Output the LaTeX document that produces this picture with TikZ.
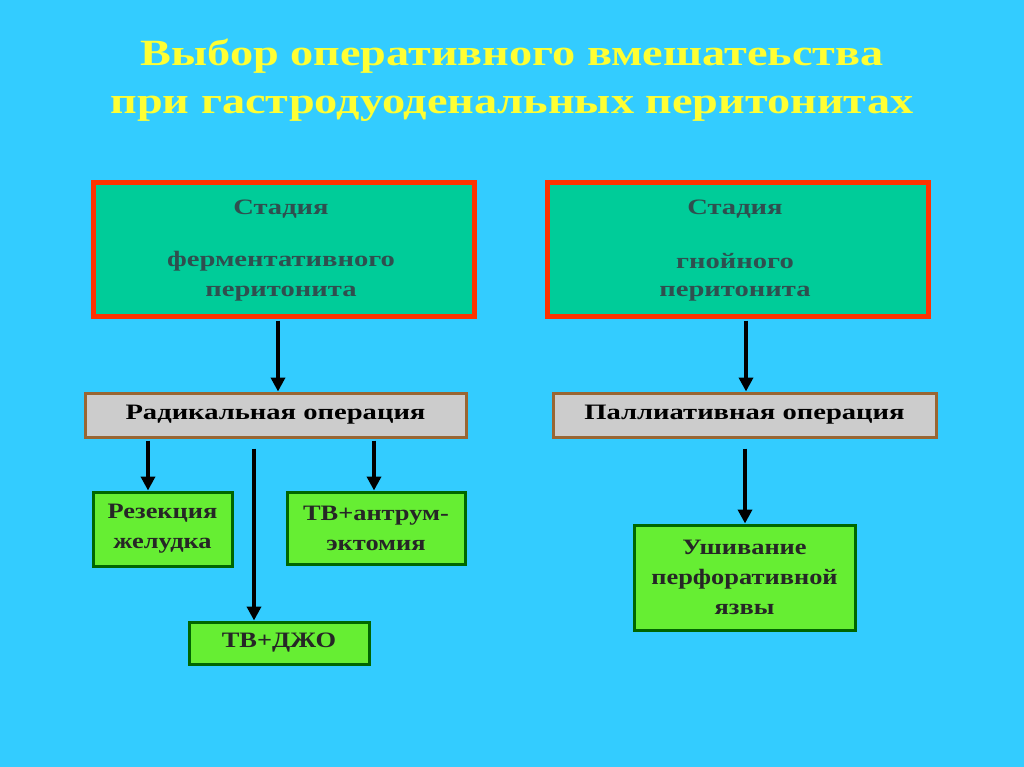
\documentclass[tikz,border=0pt]{standalone}
\usepackage{fontspec}
\setmainfont{Liberation Serif}
\newfontfamily\ttlfont[FakeStretch=1.25]{Liberation Serif}
\newfontfamily\boxfont[FakeStretch=1.3]{Liberation Serif}
\newfontfamily\gfont[FakeStretch=1.2]{Liberation Serif}
\usetikzlibrary{arrows.meta}
\definecolor{bg}{HTML}{33CCFF}
\definecolor{ttl}{HTML}{FFFF33}
\definecolor{stg}{HTML}{00CC99}
\definecolor{stgb}{HTML}{FF3300}
\definecolor{stgt}{HTML}{2F4F4F}
\definecolor{opf}{HTML}{CCCCCC}
\definecolor{opb}{HTML}{996633}
\definecolor{gf}{HTML}{66EE33}
\definecolor{gb}{HTML}{006600}
\begin{document}
\begin{tikzpicture}[x=1pt,y=-1pt,
 stagebox/.style={draw=stgb,line width=5pt,fill=stg,minimum width=381pt,minimum height=133pt,anchor=north west},
 opbox/.style={draw=opb,line width=3pt,fill=opf,minimum height=44pt,anchor=north west,font=\boxfont\fontsize{22}{26}\selectfont\bfseries},
 gbox/.style={draw=gb,line width=3pt,fill=gf,anchor=north west,align=center,font=\gfont\fontsize{22}{30}\selectfont\bfseries,text=black!85},
 stt/.style={text=stgt,font=\boxfont\fontsize{22}{26}\selectfont\bfseries},
 arr/.style={line width=4pt,-{Triangle[length=14pt,width=14pt]}}]
\fill[bg] (0,0) rectangle (1024,767);
\useasboundingbox (0,0) rectangle (1024,767);
\node[text=ttl,font=\ttlfont\fontsize{37}{40}\selectfont\bfseries] (t1) at (512,56) {Выбор оперативного вмешатеьства};
\node[text=ttl,font=\ttlfont\fontsize{37}{40}\selectfont\bfseries] (t2) at (512,109) {при гастродуоденальных перитонитах};
\node[stagebox] (s1) at (90.5,180.5) {};
\node[stt] at (281,209) {Стадия};
\node[stt] at (281,261) {ферментативного};
\node[stt] at (281,294) {перитонита};
\node[stagebox] (s2) at (544.5,180.5) {};
\node[stt] at (735,209) {Стадия};
\node[stt] at (735,261) {гнойного};
\node[stt] at (735,294) {перитонита};
\node[opbox,minimum width=381pt] (r) at (83.5,391.5) {Радикальная операция};
\node[opbox,minimum width=383pt] (p) at (551.5,391.5) {Паллиативная операция};
\node[gbox,minimum width=139pt,minimum height=74pt] (g1) at (91.5,490.5) {Резекция\\желудка};
\node[gbox,minimum width=178pt,minimum height=72pt] (g2) at (285.5,490.5) {ТВ+антрум-\\эктомия};
\node[gbox,minimum width=180pt,minimum height=42pt] (g3) at (187.5,620.5) {ТВ+ДЖО};
\node[gbox,minimum width=221pt,minimum height=105pt] (g4) at (632.5,523.5) {Ушивание\\перфоративной\\язвы};
\draw[arr] (s1.south -| 278,0) ++(0,2) -- (r.north -| 278,0);
\draw[arr] (s2.south -| 746,0) ++(0,2) -- (p.north -| 746,0);
\draw[arr] (r.south -| 148,0) ++(0,2) -- (g1.north -| 148,0);
\draw[arr] (r.south -| 374,0) ++(0,2) -- (g2.north -| 374,0);
\draw[arr] (r.south -| 254,0) ++(0,10) -- (g3.north -| 254,0);
\draw[arr] (p.south -| 745,0) ++(0,10) -- (g4.north -| 745,0);
\end{tikzpicture}
\end{document}
